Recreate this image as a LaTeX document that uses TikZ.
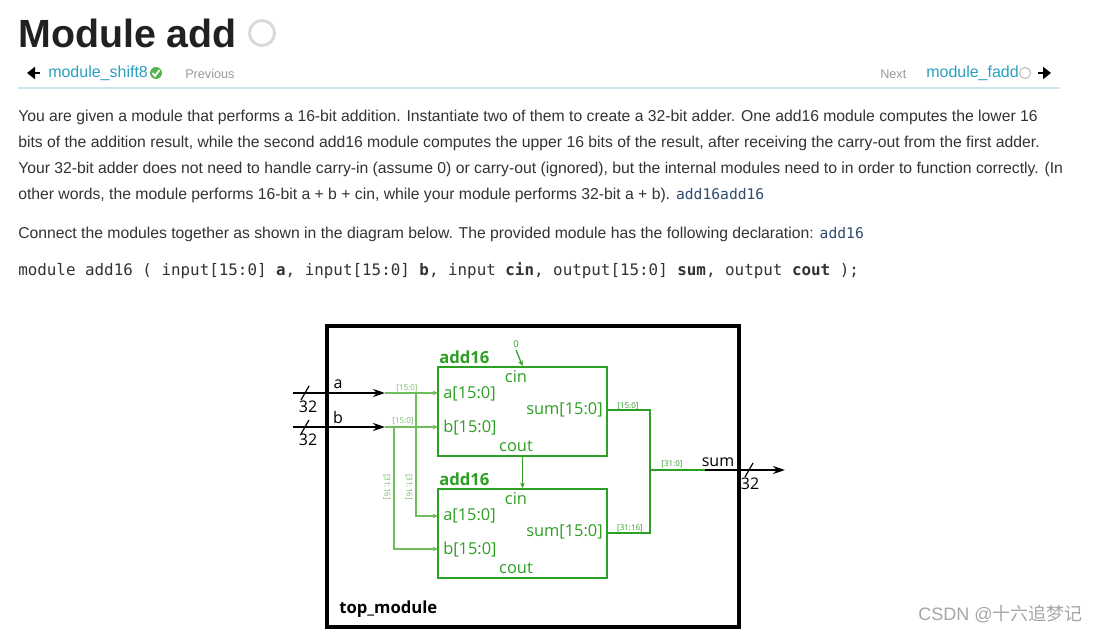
\documentclass[tikz,border=0pt]{standalone}
\usepackage{fontspec}
\setmainfont{Liberation Sans}
\newfontfamily\diagfont{Open Sans}
\newfontfamily\codefont{DejaVu Sans Mono}
\newfontfamily\cjkfont{Noto Sans CJK SC}
\usetikzlibrary{arrows.meta}
\definecolor{txtgray}{RGB}{51,51,51}
\definecolor{linkblue}{RGB}{42,160,190}
\definecolor{rulecol}{RGB}{200,232,238}
\definecolor{modgreen}{RGB}{44,160,34}
\definecolor{wiregreen}{RGB}{110,190,95}
\definecolor{codeblue}{RGB}{45,75,110}

\tikzset{
  bodytext/.style={anchor=west, inner sep=0pt, text=txtgray, font=\fontsize{11.8}{12}\selectfont},
  modbox/.style={draw=modgreen, line width=1.6pt, minimum width=126.75pt, minimum height=66.75pt, inner sep=0pt},
  port/.style={inner sep=0pt, text=modgreen, font=\diagfont\fontsize{12.3}{13}\selectfont},
  modname/.style={anchor=west, inner sep=0pt, text=modgreen, font=\diagfont\bfseries\fontsize{12.5}{13}\selectfont},
  tag/.style={inner sep=0pt, text=wiregreen, font=\diagfont\fontsize{6}{7}\selectfont},
  wire/.style={draw=wiregreen, line width=0.9pt},
  bus/.style={draw=black, line width=1.6pt},
  pin/.style={inner sep=0pt, font=\diagfont\fontsize{12}{13}\selectfont},
  navarrow/.style={line width=2.2pt, -{Triangle[length=6pt,width=9pt]}},
}
\newcommand{\code}[1]{{\codefont\color{codeblue}\fontsize{11}{12}\selectfont #1}}

\begin{document}
\begin{tikzpicture}[x=0.75pt,y=-0.75pt]
  \useasboundingbox[fill=white] (0,0) rectangle (1105,634);

  % Heading and navigation
  \node[anchor=west, inner sep=0pt, text=black!87, font=\bfseries\fontsize{29.5}{31}\selectfont] (title) at (18,33) {Module add};
  \draw[black!15, line width=2.2pt] (262,33) circle (12.5);
  \draw[navarrow] (40,73) -- (27,73);
  \node[anchor=west, inner sep=0pt, text=linkblue, font=\fontsize{12}{13}\selectfont] (prevlink) at (48,73) {module\_shift8};
  \fill[modgreen!80] (156,73) circle (6);
  \draw[white, line width=1.3pt] (152.5,73) -- (155,76) -- (159.5,70);
  \node[anchor=west, inner sep=0pt, text=black!40, font=\fontsize{9.5}{10}\selectfont] (prevtxt) at (185,74) {Previous};
  \node[anchor=west, inner sep=0pt, text=black!40, font=\fontsize{9.5}{10}\selectfont] (nexttxt) at (880,74) {Next};
  \node[anchor=west, inner sep=0pt, text=linkblue, font=\fontsize{12}{13}\selectfont] (nextlink) at (926,73) {module\_fadd};
  \draw[black!25, line width=0.8pt] (1025,73) circle (5.5);
  \draw[navarrow] (1038,73) -- (1051,73);
  \draw[rulecol, line width=1.5pt] (18,88) -- (1060,88);

  % Problem text
  \node[bodytext] (l1) at (18,117) {You are given a module that performs a 16-bit addition. Instantiate two of them to create a 32-bit adder. One add16 module computes the lower 16};
  \node[bodytext] (l2) at (18,143) {bits of the addition result, while the second add16 module computes the upper 16 bits of the result, after receiving the carry-out from the first adder.};
  \node[bodytext] (l3) at (18,169) {Your 32-bit adder does not need to handle carry-in (assume 0) or carry-out (ignored), but the internal modules need to in order to function correctly. (In};
  \node[bodytext] (l4) at (18,195) {other words, the module performs 16-bit a + b + cin, while your module performs 32-bit a + b). \code{add16add16}};
  \node[bodytext] (l5) at (18,234) {Connect the modules together as shown in the diagram below. The provided module has the following declaration: \code{add16}};
  \node[anchor=west, inner sep=0pt, text=txtgray, font=\codefont\fontsize{11.9}{12}\selectfont] (decl) at (18,271)
    {module add16 ( input[15:0] \textbf{a}, input[15:0] \textbf{b}, input \textbf{cin}, output[15:0] \textbf{sum}, output \textbf{cout} );};

  % Diagram
  \draw[line width=3pt] (327,326) rectangle (739,627);
  \node[anchor=west, inner sep=0pt, font=\diagfont\bfseries\fontsize{12.5}{13}\selectfont] (top) at (339,609) {top\_module};

  \node[modbox] (upper) at (522.5,411.5) {};
  \node[modbox] (lower) at (522.5,533.5) {};
  \node[modname] (uname) at (439,357) {add16};
  \node[modname] (lname) at (439,479) {add16};

  \foreach \m/\dy in {upper/0, lower/122} {
    \node[port] at (516,377+\dy) {cin};
    \node[port, anchor=west] at (443,394+\dy) {a[15:0]};
    \node[port, anchor=west] at (443,428+\dy) {b[15:0]};
    \node[port, anchor=east] at (603,410+\dy) {sum[15:0]};
    \node[port] at (516,446+\dy) {cout};
  }

  \coordinate (ina) at (293,393);
  \coordinate (inb) at (293,427);
  \coordinate (enda) at (385,393);
  \coordinate (endb) at (385,427);
  \coordinate (ua) at (438,393);
  \coordinate (ub) at (438,427);
  \coordinate (la) at (438,516);
  \coordinate (lb) at (438,549);
  \coordinate (cin0) at (516,350);
  \coordinate (join) at (650,470);
  \coordinate (outs) at (705,470);
  \coordinate (outend) at (785,470);

  % Inputs
  \draw[bus, -{Stealth[length=9pt,width=6pt]}] (ina) -- (enda);
  \draw[bus, -{Stealth[length=9pt,width=6pt]}] (inb) -- (endb);
  \draw[line width=0.9pt] (301,400) -- (309,386);
  \draw[line width=0.9pt] (301,434) -- (309,420);
  \node[pin] (na) at (338,384) {a};
  \node[pin] (nb) at (338,417) {b};
  \node[pin] (wa) at (308,407) {32};
  \node[pin] (wb) at (308,440) {32};

  \draw[wire, -{Stealth[length=4pt,width=3.5pt]}] (enda) -- (ua);
  \draw[wire, -{Stealth[length=4pt,width=3.5pt]}] (endb) -- (ub);
  \draw[wire, -{Stealth[length=4pt,width=3.5pt]}] (416,393) |- (la);
  \draw[wire, -{Stealth[length=4pt,width=3.5pt]}] (394,427) |- (lb);
  \node[tag] at (407,388) {[15:0]};
  \node[tag] at (403,421) {[15:0]};
  \node[tag, rotate=-90] at (409,487) {[31:16]};
  \node[tag, rotate=-90] at (387,487) {[31:16]};

  % Carry
  \node[inner sep=0pt, text=modgreen, font=\diagfont\fontsize{7}{8}\selectfont] (zero) at (516,344) {0};
  \draw[wire, draw=modgreen, -{Stealth[length=4pt,width=3.5pt]}] (cin0) -- (upper.north);
  \draw[wire, draw=modgreen, -{Stealth[length=4pt,width=3.5pt]}] (upper.south) -- (lower.north);

  % Outputs
  \draw[wire, draw=modgreen] (607,410) -| (join) |- (607,533);
  \draw[wire, draw=modgreen] (join) -- (outs);
  \draw[bus, -{Stealth[length=9pt,width=6pt]}] (outs) -- (outend);
  \draw[line width=0.9pt] (745,477) -- (753,463);
  \node[tag, text=modgreen] at (628,406) {[15:0]};
  \node[tag, text=modgreen] at (630,528) {[31:16]};
  \node[tag, text=modgreen] at (672,464) {[31:0]};
  \node[pin] (ns) at (718,462) {sum};
  \node[pin] (ws) at (750,484) {32};

  % Watermark
  \node[anchor=west, inner sep=0pt, text=black!35, font=\fontsize{13.5}{14}\selectfont] (mark) at (918,614) {CSDN @{\cjkfont 十六追梦记}};
\end{tikzpicture}
\end{document}
